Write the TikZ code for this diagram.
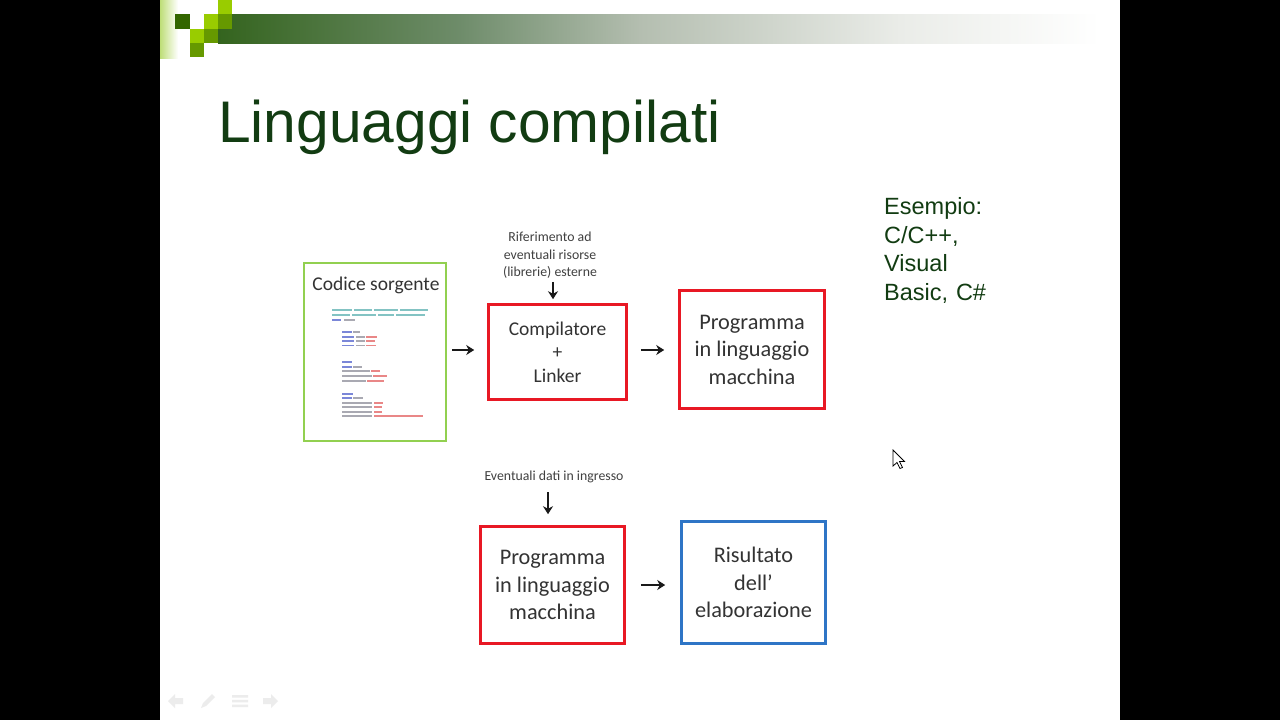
\documentclass[tikz,border=0pt]{standalone}
\usepackage{fontspec}
\setmainfont{Liberation Sans}
\newfontfamily\calfont{Carlito}
\usetikzlibrary{arrows.meta}
\definecolor{titlegreen}{RGB}{18,60,18}
\definecolor{sqlight}{RGB}{153,204,0}
\definecolor{sqmed}{RGB}{102,153,0}
\definecolor{sqdark}{RGB}{51,102,0}
\definecolor{barA}{RGB}{52,100,30}
\definecolor{barB}{RGB}{110,140,106}
\definecolor{barC}{RGB}{180,190,176}
\definecolor{barD}{RGB}{234,236,232}
\definecolor{stripg}{RGB}{190,222,120}
\definecolor{boxred}{RGB}{232,24,36}
\definecolor{boxblue}{RGB}{46,117,198}
\definecolor{boxgreen}{RGB}{146,208,80}
\definecolor{cteal}{RGB}{110,185,185}
\definecolor{ckw}{RGB}{100,115,210}
\definecolor{cstr}{RGB}{230,115,115}
\definecolor{cplain}{RGB}{155,155,165}
\definecolor{navgray}{RGB}{236,236,236}
\tikzset{
  box/.style={draw, line width=2.6pt, inner sep=0pt, align=center,
    text=black!80, font=\calfont\fontsize{22.3}{27.5}\selectfont},
  lbl/.style={inner sep=0pt, align=center, text=black!75,
    font=\calfont\fontsize{13.8}{17.5}\selectfont},
  arr/.style={-{Stealth[length=8pt,width=10pt]}, line width=2.1pt, black!90},
  codeline/.style={line width=1.7pt, opacity=0.85},
}
\begin{document}
\begin{tikzpicture}[x=1pt,y=-1pt]
\useasboundingbox (0,0) rectangle (1280,720);
\fill[black] (0,0) rectangle (1280,720);
\fill[white] (160,0) rectangle (1120,720);

% header decoration
\shade[left color=stripg, right color=white] (160,0) rectangle (178,58);
\shade[left color=barA, right color=barB] (218,14.3) rectangle (460,43);
\shade[left color=barB, right color=barC] (459.5,14.3) rectangle (640,43);
\shade[left color=barC, right color=barD] (639.5,14.3) rectangle (900,43);
\shade[left color=barD, right color=white] (899.5,14.3) rectangle (1100,43);
\fill[sqlight] (218,0) rectangle (232,14.3);
\fill[sqdark] (175,14.3) rectangle (189.5,28.6);
\fill[sqlight] (204,14.3) rectangle (218,28.6);
\fill[sqmed] (218,14.3) rectangle (232,28.6);
\fill[sqlight] (189.5,28.6) rectangle (204,43);
\fill[sqmed] (204,28.6) rectangle (218,43);
\fill[sqmed] (189.5,43) rectangle (204,57.3);

% title
\node[anchor=base west, inner sep=0pt, text=titlegreen,
      font=\fontsize{58.7}{70}\selectfont] (title) at (218,142) {Linguaggi compilati};

% example text
\node[anchor=base west, inner sep=0pt, text=titlegreen, text width=160pt, align=left,
      font=\fontsize{23.5}{28.5}\selectfont] (esempio) at (884,214.5)
      {Esempio:\\C/C++,\\Visual\\Basic, C\#};

% source code box
\node[draw=boxgreen, line width=2.4pt, minimum width=142pt, minimum height=178pt,
      inner sep=0pt] (src) at (375,352) {};
\node[inner sep=0pt, text=black!80, font=\calfont\fontsize{19.5}{22}\selectfont]
      (srctitle) at (376,285) {Codice sorgente};
% code lines (illegible in the reference)
\draw[codeline, cteal] (332,309.7) -- (352,309.7) (354,309.7) -- (372,309.7) (374,309.7) -- (398,309.7) (400,309.7) -- (428,309.7);
\draw[codeline, cteal] (332,315) -- (350,315) (352,315) -- (376,315) (378,315) -- (394,315) (396,315) -- (425,315);
\draw[codeline, ckw] (332,320) -- (341,320);
\draw[codeline, cplain] (344,320) -- (355,320);
\draw[codeline, ckw] (342,332) -- (352,332);
\draw[codeline, cplain] (353,332) -- (360,332);
\foreach \yy/\xe in {336.7/377, 341/375, 345.5/376}{
  \draw[codeline, ckw] (342,\yy) -- (354,\yy);
  \draw[codeline, cplain] (356,\yy) -- (365,\yy);
  \draw[codeline, cstr] (366,\yy) -- (\xe,\yy);
}
\draw[codeline, ckw] (342,362) -- (352,362);
\draw[codeline, ckw] (342,366.7) -- (352,366.7);
\draw[codeline, cplain] (353,366.7) -- (362,366.7);
\draw[codeline, cplain] (342,371.3) -- (370,371.3);
\draw[codeline, cstr] (371,371.3) -- (380,371.3);
\draw[codeline, cplain] (342,376) -- (372,376);
\draw[codeline, cstr] (373,376) -- (387,376);
\draw[codeline, cplain] (342,380.7) -- (366,380.7);
\draw[codeline, cstr] (367,380.7) -- (384,380.7);
\draw[codeline, ckw] (342,393.7) -- (353,393.7);
\draw[codeline, ckw] (342,398.3) -- (352,398.3);
\draw[codeline, cplain] (353,398.3) -- (363,398.3);
\foreach \yy/\xe in {402.7/383, 407.3/382, 411.7/382, 416.3/423}{
  \draw[codeline, cplain] (342,\yy) -- (372,\yy);
  \draw[codeline, cstr] (374,\yy) -- (\xe,\yy);
}

% diagram boxes
\node[box, draw=boxred, minimum width=138pt, minimum height=95pt,
      font=\calfont\fontsize{19.5}{23.5}\selectfont] (comp) at (557.5,352)
      {Compilatore\\+\\Linker};
\node[box, draw=boxred, minimum width=145pt, minimum height=118pt] (prog1) at (752,349.5)
      {Programma\\in linguaggio\\macchina};
\node[box, draw=boxred, minimum width=144pt, minimum height=117pt] (prog2) at (552.5,585)
      {Programma\\in linguaggio\\macchina};
\node[box, draw=boxblue, minimum width=144pt, minimum height=122pt] (res) at (753.5,582.5)
      {Risultato\\dell’\\elaborazione};

% labels
\node[lbl] (lab1) at (550,255.5) {Riferimento ad\\eventuali risorse\\(librerie) esterne};
\node[lbl] (lab2) at (554,477) {Eventuali dati in ingresso};

% arrows
\draw[arr, shorten <=5pt, shorten >=13pt] ([yshift=2pt]src.east) -- ([yshift=2pt]comp.west);
\draw[arr, shorten <=13pt, shorten >=14pt] ([yshift=2pt]comp.east) -- ([yshift=2pt]comp.east -| prog1.west);
\draw[arr, shorten <=15pt, shorten >=15pt] (prog2.east) -- (prog2.east -| res.west);
\draw[arr, shorten <=3pt, shorten >=4pt] ([xshift=-4.5pt]comp.north |- lab1.south) -- ([xshift=-4.5pt]comp.north);
\draw[arr, shorten <=9pt, shorten >=11pt] ([xshift=-4.5pt]prog2.north |- lab2.south) -- ([xshift=-4.5pt]prog2.north);

% faint slide navigation icons
\fill[navgray] (168,701) -- (175,694) -- (175,698) -- (183,698) -- (183,704) -- (175,704) -- (175,708) -- cycle;
\fill[navgray] (201,708) -- (203,703) -- (212,694) -- (215,697) -- (206,706) -- cycle;
\fill[navgray] (232,695) rectangle (248,697.5) (232,699.8) rectangle (248,702.3) (232,704.6) rectangle (248,707.1);
\fill[navgray] (278,701) -- (271,694) -- (271,698) -- (263,698) -- (263,704) -- (271,704) -- (271,708) -- cycle;

% mouse pointer
\filldraw[fill=white, draw=black, line width=0.8pt] (893,450) -- (893,466) -- (897,462.5) -- (900,468.5) -- (902.5,467.5) -- (899.5,461.5) -- (904.5,461.5) -- cycle;
\end{tikzpicture}
\end{document}
